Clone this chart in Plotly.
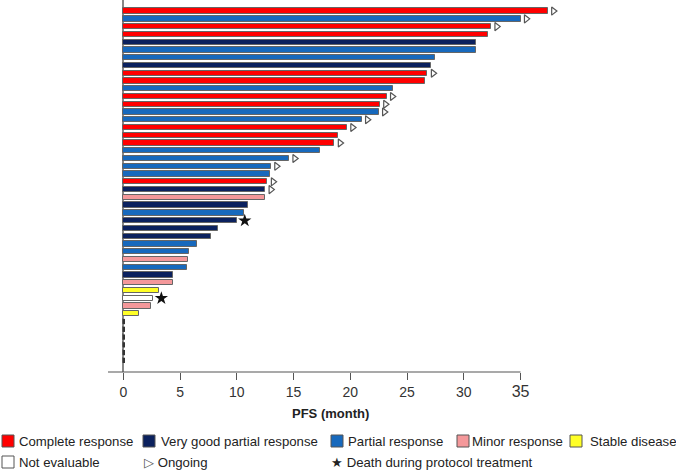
import plotly.graph_objects as go

# PFS per patient (months), top to bottom as in the swimmer plot
pfs = [37.4, 35.0, 32.4, 32.1, 31.1, 31.1, 27.5, 27.1, 26.8, 26.6,
       23.8, 23.2, 22.6, 22.5, 21.0, 19.7, 18.9, 18.6, 17.3, 14.6,
       13.0, 12.9, 12.7, 12.5, 12.5, 11.0, 10.6, 10.0, 8.3, 7.7,
       6.5, 5.75, 5.7, 5.6, 4.35, 4.35, 3.1, 2.65, 2.4, 1.35,
       0, 0, 0, 0, 0, 0]
response = ["CR", "PR", "CR", "CR", "VGPR", "PR", "PR", "VGPR", "CR", "CR",
            "PR", "CR", "CR", "PR", "PR", "CR", "CR", "CR", "PR", "PR",
            "PR", "PR", "CR", "VGPR", "MR", "VGPR", "PR", "VGPR", "VGPR", "VGPR",
            "PR", "PR", "MR", "PR", "VGPR", "MR", "SD", "NE", "MR", "SD",
            "NE", "NE", "NE", "NE", "NE", "NE"]
ongoing = [1, 2, 3, 9, 12, 13, 14, 15, 16, 18, 20, 21, 23, 24]   # patient rows (1-based)
death = [28, 38]

resp_names = {"CR": "Complete response", "VGPR": "Very good partial response",
              "PR": "Partial response", "MR": "Minor response",
              "SD": "Stable disease", "NE": "Not evaluable"}
resp_colors = {"CR": "#ff0000", "VGPR": "#0b215e", "PR": "#1769bd",
               "MR": "#f4989a", "SD": "#ffff26", "NE": "#ffffff"}
xticks = [0, 5, 10, 15, 20, 25, 30, 35]

FONT = "Liberation Sans, Arial, sans-serif"
rows = list(range(1, len(pfs) + 1))

fig = go.Figure()
fig.add_trace(go.Bar(
    x=pfs, y=rows, orientation="h",
    marker=dict(color=[resp_colors[r] for r in response],
                line=dict(color="#666666", width=1)),
    width=0.68, hoverinfo="x", showlegend=False))

# patients with zero PFS drawn as short ticks on the zero line
zx, zy = [], []
for r, v in zip(rows, pfs):
    if v == 0:
        zx += [0.05, 0.05, None]
        zy += [r - 0.34, r + 0.34, None]
fig.add_trace(go.Scatter(x=zx, y=zy, mode="lines",
                         line=dict(color="#333333", width=2.2),
                         hoverinfo="none", showlegend=False))

fig.add_trace(go.Scatter(
    x=[pfs[i - 1] + 0.5 for i in ongoing], y=ongoing, mode="markers",
    marker=dict(symbol="triangle-right-open", size=7, color="#555555",
                line=dict(width=1.2)),
    hoverinfo="none", showlegend=False, cliponaxis=False))
fig.add_trace(go.Scatter(
    x=[pfs[i - 1] + 0.7 for i in death], y=death, mode="markers",
    marker=dict(symbol="star", size=10, color="#111111"),
    hoverinfo="none", showlegend=False, cliponaxis=False))

# pixel -> paper helpers (plot area 108..634 x 0..372)
L, R, T, B = 108, 634, 0, 372
def px(x):
    return (x - L) / (R - L)
def py(y):
    return (B - y) / (B - T)

shapes = [dict(type="line", xref="x", yref="paper", x0=-1.35, x1=35,
               y0=0, y1=0, line=dict(color="#555555", width=1.2))]
annotations = [dict(text="<b>PFS (month)</b>", xref="paper", yref="paper",
                    x=px(330), y=py(414), xanchor="center", yanchor="middle",
                    showarrow=False,
                    font=dict(size=13, color="#222222", family=FONT))]

# legend, drawn by hand
legend_rows = [
    [("CR", 2, 17), ("VGPR", 143, 159), ("PR", 331, 346), ("MR", 457, 470), ("SD", 570, 588)],
    [("NE", 2, 17)],
]
for k, row in enumerate(legend_rows):
    ly = 441 if k == 0 else 462
    for key, sx, tx in row:
        shapes.append(dict(type="rect", xref="paper", yref="paper",
                           x0=px(sx), x1=px(sx + 12), y0=py(ly + 6), y1=py(ly - 6),
                           fillcolor=resp_colors[key],
                           line=dict(color="#555555", width=1)))
        annotations.append(dict(text=resp_names[key], xref="paper", yref="paper",
                                x=px(tx), y=py(ly), xanchor="left", yanchor="middle",
                                showarrow=False,
                                font=dict(size=13.2, color="#222222", family=FONT)))
annotations.append(dict(text="<span style='color:#555555'>\u25B7</span> Ongoing",
                        xref="paper", yref="paper", x=px(142), y=py(462),
                        xanchor="left", yanchor="middle", showarrow=False,
                        font=dict(size=13.2, color="#222222", family=FONT)))
annotations.append(dict(text="\u2605 Death during protocol treatment",
                        xref="paper", yref="paper", x=px(329), y=py(462),
                        xanchor="left", yanchor="middle", showarrow=False,
                        font=dict(size=13.2, color="#222222", family=FONT)))

ticktext = [str(t) for t in xticks]
ticktext[-1] = "<span style='font-size:16px'>35</span>"

fig.update_layout(
    width=676, height=470,
    margin=dict(l=L, r=676 - R, t=T, b=470 - B),
    paper_bgcolor="white", plot_bgcolor="white",
    barmode="overlay", bargap=0,
    font=dict(family=FONT, color="#333333", size=13),
    xaxis=dict(range=[-1.35, 45], tickvals=xticks, ticktext=ticktext,
               ticks="outside", ticklen=7, tickcolor="#555555", tickwidth=1.2,
               showgrid=False, showline=False,
               zeroline=True, zerolinecolor="#888888", zerolinewidth=1.5,
               tickfont=dict(size=14, color="#333333")),
    yaxis=dict(range=[len(pfs) + 1.5, -0.43], showticklabels=False,
               showgrid=False, zeroline=False, showline=False, ticks=""),
    shapes=shapes, annotations=annotations,
)

fig.write_html("out.html", config={"displayModeBar": False},
               post_script="document.body.style.margin='0';")
